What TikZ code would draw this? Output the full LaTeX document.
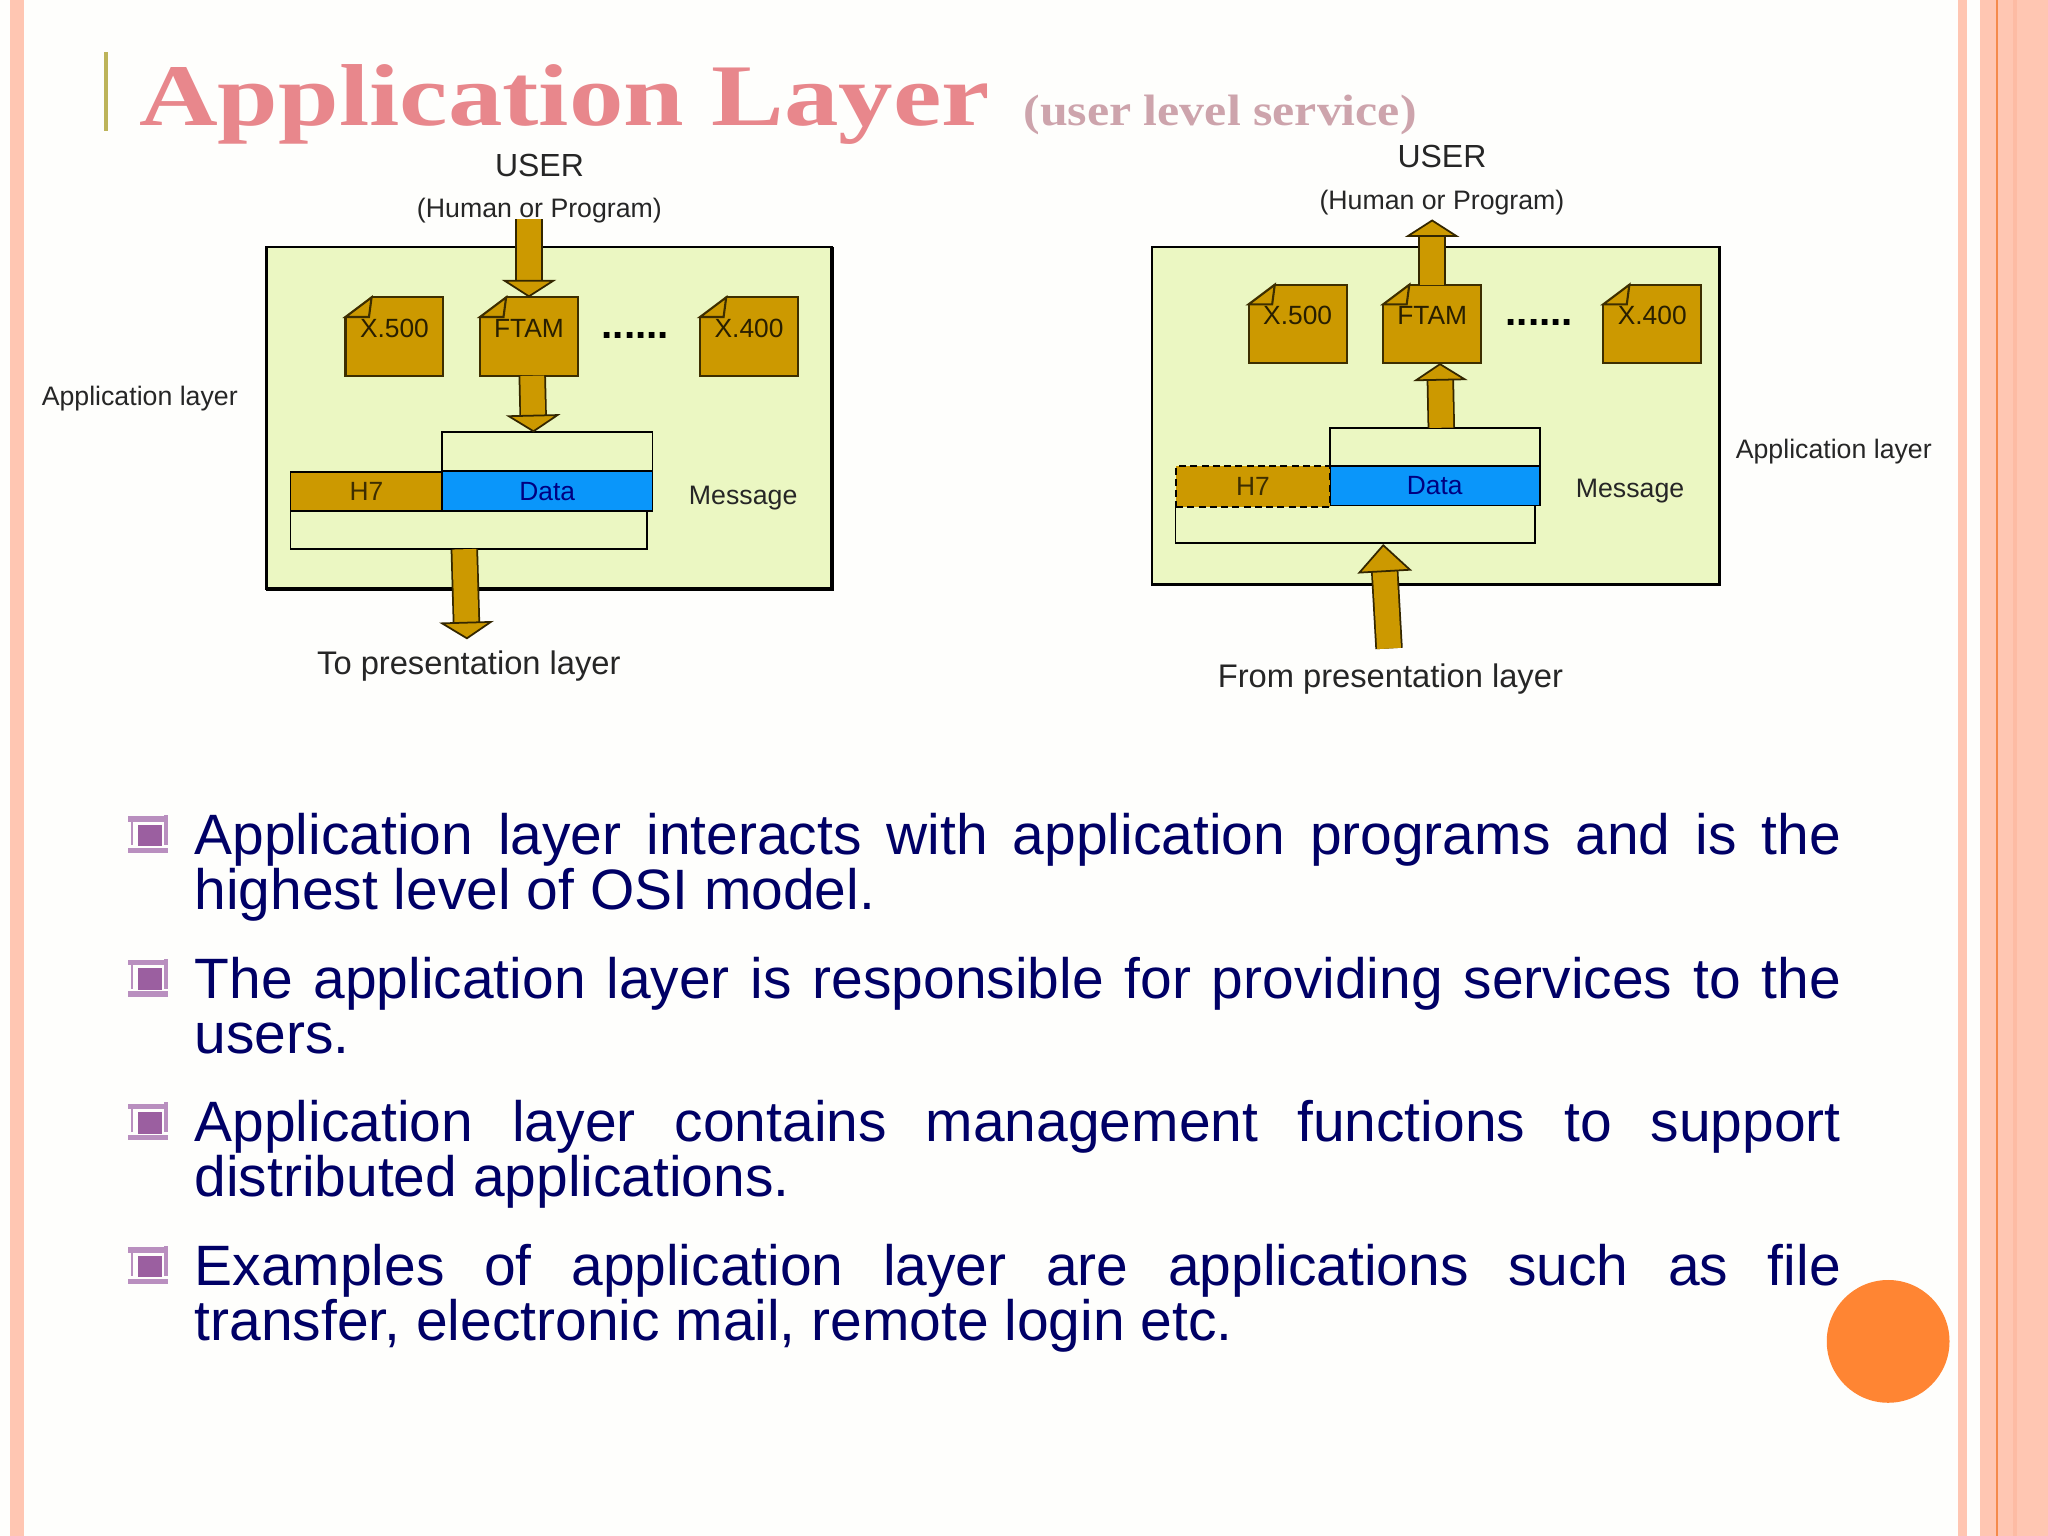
\documentclass[tikz,border=0pt]{standalone}
\usepackage{fontspec}
\setmainfont{Liberation Sans}
\newfontfamily\titlefont{Liberation Serif}
\usetikzlibrary{calc, arrows.meta}

\definecolor{paper}{HTML}{FEFEFC}
\definecolor{stripe}{HTML}{FFC6B2}
\definecolor{stripedark}{HTML}{FDBBA4}
\definecolor{stripeline}{HTML}{F58A4B}
\definecolor{dotorange}{HTML}{FF8533}
\definecolor{panelgreen}{HTML}{EBF7C2}
\definecolor{gold}{HTML}{CC9900}
\definecolor{datablue}{HTML}{0A96FA}
\definecolor{bodynavy}{HTML}{000066}
\definecolor{titlerose}{HTML}{E8878C}
\definecolor{subtitlerose}{HTML}{CDA4AC}
\definecolor{barolive}{HTML}{BDB45A}
\definecolor{bulletdark}{HTML}{9B5FA0}
\definecolor{bulletlight}{HTML}{B98FBF}

\newcommand{\unitpx}{0.013061cm}

\tikzset{
  panel/.style={draw=black, line width=0.6pt, fill=panelgreen, anchor=north west, inner sep=0pt, outer sep=0pt},
  blockbox/.style={draw=black, line width=0.5pt, anchor=north west, inner sep=0pt, outer sep=0pt,
    font=\fontsize{7.5}{8}\selectfont, text=black!70!gold},
  docbox/.style={draw=black!70!gold, line width=0.6pt, fill=gold, inner sep=0pt, outer sep=0pt,
    minimum width=75*\unitpx, minimum height=60*\unitpx, text height=5.5pt, text depth=5.2pt,
    font=\fontsize{7.5}{8}\selectfont, text=black!80!gold},
  blockarrow/.style={line width=0.5pt, draw=black!75!gold, double=gold, double distance=6.8pt,
    -{Triangle[length=#1,width=15.5pt,fill=gold]}},
  blockarrow/.default=5pt,
  smalltext/.style={font=\fontsize{7.6}{8}\selectfont, text=black!85, inner sep=0pt},
  midtext/.style={font=\fontsize{9.3}{10}\selectfont, text=black!85, inner sep=0pt},
  bodytext/.style={anchor=north west, inner sep=0pt, text width=1260.5*\unitpx, align=justify,
    font=\fontsize{16.2}{15.7}\selectfont, text=bodynavy}
}

\begin{document}
\begin{tikzpicture}[x=\unitpx, y=-\unitpx]
  \useasboundingbox (0,0) rectangle (1568,1176);
  \fill[paper] (0,0) rectangle (1568,1176);

  % stripes on both sides
  \fill[stripe] (8,0) rectangle (18,1176);
  \fill[stripe] (1499,0) rectangle (1506,1176);
  \fill[stripe] (1516,0) rectangle (1568,1176);
  \fill[stripeline] (1528,0) rectangle (1530,1176);
  \fill[stripedark] (1541,0) rectangle (1544,1176);

  % title
  \fill[barolive] (79.5,40) rectangle (82.5,100);
  \node[anchor=base west, inner sep=0pt, xscale=1.24, text=titlerose, font=\titlefont\bfseries\fontsize{25}{27}\selectfont] (title) at (106,96) {Application Layer};
  \node[anchor=base west, inner sep=0pt, xscale=1.135, text=subtitlerose, font=\titlefont\bfseries\fontsize{12.5}{14}\selectfont] (subtitle) at (783,96) {(user level service)};

  % left diagram
  \node[panel, minimum width=433*\unitpx, minimum height=262*\unitpx] (panelL) at (204,189) {};
  \draw[line width=1pt] (panelL.north east) -- (panelL.south east) -- (panelL.south west);
  \node[midtext, font=\fontsize{9.1}{10}\selectfont] (userL) at (413,127) {USER};
  \node[smalltext] (humanL) at (413,161) {(Human or Program)};
  \node[smalltext] (appL) at (107,305) {Application layer};
  \node[smalltext] (msgL) at (569,381) {Message};
  \node[midtext] (toPres) at (359,510) {To presentation layer};
  \node[font=\bfseries\fontsize{11.5}{12}\selectfont, inner sep=0pt, anchor=base] (dotsL) at (486.5,259) {......};

  \foreach \n/\x/\t in {xfiveL/302/X.500, ftamL/405/FTAM, xfourL/573.5/X.400}{
    \node[docbox] (\n) at (\x,257.7) {\t};
    \fill[panelgreen] ($(\n.north west)+(-1,-1)$) -- ++(21,0) -- ($(\n.north west)+(-1,15)$) -- cycle;
    \draw[line width=0.6pt, black!70!gold] ($(\n.north west)+(0,15)$) -- ++(20,-15) -- ++(-2,15) -- cycle;
  }

  \node[blockbox, fill=panelgreen, minimum width=161*\unitpx, minimum height=29.5*\unitpx] (topL) at (338.5,331) {};
  \node[blockbox, fill=panelgreen, minimum width=273*\unitpx, minimum height=29*\unitpx] (botL) at (222.5,391.5) {};
  \node[blockbox, fill=datablue, minimum width=161*\unitpx, minimum height=31*\unitpx, text=blue!50!black] (dataL) at (338.5,360.5) {Data};
  \node[blockbox, fill=gold, minimum width=116*\unitpx, minimum height=30*\unitpx] (hL) at (222.5,361.5) {H7};

  \coordinate (inL) at (405,168);
  \coordinate (outL) at (357.5,489.5);
  \coordinate (topInL) at (408.5,331);
  \draw[blockarrow] (inL) -- (ftamL.north);
  \draw[blockarrow] ($(ftamL.south)+(2.5,0)$) -- (topInL);
  \draw[blockarrow] ($(botL.south)+(-3.5,0)$) -- (outL);

  % right diagram
  \node[panel, minimum width=434.5*\unitpx, minimum height=258.5*\unitpx] (panelR) at (882,189) {};
  \draw[line width=1pt] (panelR.north east) -- (panelR.south east) -- (panelR.south west);
  \node[midtext, font=\fontsize{9.1}{10}\selectfont] (userR) at (1104,120) {USER};
  \node[smalltext] (humanR) at (1104,155) {(Human or Program)};
  \node[smalltext] (appR) at (1404,346) {Application layer};
  \node[smalltext] (msgR) at (1248,376) {Message};
  \node[midtext] (fromPres) at (1064.5,520) {From presentation layer};
  \node[font=\bfseries\fontsize{11.5}{12}\selectfont, inner sep=0pt, anchor=base] (dotsR) at (1178.5,249) {......};

  \foreach \n/\x/\t in {xfiveR/993.5/X.500, ftamR/1096.5/FTAM, xfourR/1265/X.400}{
    \node[docbox] (\n) at (\x,248) {\t};
    \fill[panelgreen] ($(\n.north west)+(-1,-1)$) -- ++(21,0) -- ($(\n.north west)+(-1,15)$) -- cycle;
    \draw[line width=0.6pt, black!70!gold] ($(\n.north west)+(0,15)$) -- ++(20,-15) -- ++(-2,15) -- cycle;
  }

  \node[blockbox, fill=panelgreen, minimum width=161*\unitpx, minimum height=29.5*\unitpx] (topR) at (1018,327.5) {};
  \node[blockbox, fill=panelgreen, minimum width=275*\unitpx, minimum height=29*\unitpx] (botR) at (900,387) {};
  \node[blockbox, fill=datablue, minimum width=161*\unitpx, minimum height=30*\unitpx, text=blue!50!black] (dataR) at (1018,357) {Data};
  \node[blockbox, fill=gold, dash pattern=on 2pt off 1.2pt, minimum width=117.5*\unitpx, minimum height=31*\unitpx] (hR) at (900.5,357) {H7};

  \coordinate (outR) at (1096.5,168);
  \coordinate (inR) at (1063.5,496.5);
  \coordinate (botInR) at (1059,416.5);
  \draw[blockarrow] (ftamR.north) -- (outR);
  \draw[blockarrow] ($(topR.north)+(5,0)$) -- ($(ftamR.south)+(6,0)$);
  \draw[blockarrow=8pt] (inR) -- (botInR);

  % bullets
  \foreach \y in {639,749,859,969}{
    \fill[bulletdark] (106,\y-7.5) rectangle (124,\y+9);
    \fill[bulletlight] (98,\y-14) rectangle (128,\y-10);
    \fill[bulletlight] (100,\y-10) rectangle (102,\y+8);
    \fill[bulletlight] (125.5,\y-15) rectangle (128.5,\y+8);
    \fill[bulletlight] (98,\y+10) rectangle (129,\y+14);
  }

  % bullet text
  \node[bodytext] (paraA) at (148.5,622) {Application layer interacts with application programs and is the\linebreak highest level of OSI model.};
  \node[bodytext] (paraB) at (148.5,732) {The application layer is responsible for providing services to the\linebreak users.};
  \node[bodytext] (paraC) at (148.5,842) {Application layer contains management functions to support\linebreak distributed applications.};
  \node[bodytext] (paraD) at (148.5,952) {Examples of application layer are applications such as file\linebreak transfer, electronic mail, remote login etc.};

  \node[circle, fill=dotorange, minimum size=94*\unitpx, inner sep=0pt] (orangeDot) at (1445.6,1027) {};
\end{tikzpicture}
\end{document}
